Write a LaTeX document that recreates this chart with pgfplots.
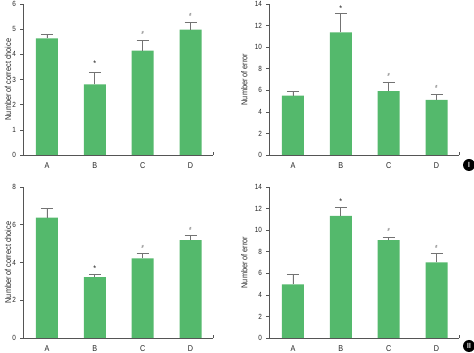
\documentclass[border=0pt]{standalone}
\usepackage{fontspec}
\setmainfont{Liberation Sans}[FakeStretch=0.85]
\usepackage{pgfplots}
\pgfplotsset{compat=1.18}
\definecolor{barg}{RGB}{84,185,108}
\definecolor{axg}{RGB}{85,85,85}
\definecolor{errg}{RGB}{115,115,115}
\pgfplotsset{
  panel/.style={
    scale only axis, width=190pt, height=151pt,
    xmin=-0.5, xmax=3.47, ymin=0,
    axis lines*=left,
    axis line style={axg, line width=0.6pt},
    xtick={0,1,2,3}, xticklabels={A,B,C,D},
    x tick style={draw=none},
    extra x ticks={3.47}, extra x tick labels={},
    extra x tick style={x tick style={draw=axg, line width=0.6pt}, tick align=inside, major tick length=3pt},
    tick align=outside, major tick length=3pt,
    y tick style={axg, line width=0.6pt},
    /pgf/number format/assume math mode=true,
    yticklabel style={font=\fontsize{7.5}{8}\selectfont, text=black!85, xshift=-0.5pt},
    xticklabel style={font=\fontsize{8.5}{9}\selectfont, text=black!85, yshift=-1pt},
    every axis y label/.style={at={(axis description cs:-0.079,0.5)}, rotate=90, anchor=center, font=\fontsize{8.6}{9}\selectfont, text=black!85},
    clip=false,
  },
  rightpanel/.style={every axis y label/.append style={at={(axis description cs:-0.13,0.5)}}},
  bars/.style={ybar, bar shift=0pt, bar width=22pt, fill=barg, draw=none,
    error bars/.cd, y dir=plus, y explicit,
    error bar style={errg, line width=0.7pt},
    error mark options={rotate=90, mark size=6pt, errg, line width=0.7pt}},
  star/.style={draw=none, mark=none, nodes near coords={*},
    every node near coord/.append style={anchor=center, inner sep=0pt, font=\fontsize{8.5}{9}\selectfont, text=black!85}},
  hash/.style={draw=none, mark=none, nodes near coords={\#},
    every node near coord/.append style={anchor=center, inner sep=0pt, font=\fontsize{4.5}{5}\selectfont, text=black!85}},
}
\begin{document}
\begin{tikzpicture}
\useasboundingbox (0pt,0pt) rectangle (474pt,353pt);
% Panel 1
\begin{axis}[panel, at={(23pt,198pt)}, anchor=south west, ymax=6, ytick={0,1,...,6},
  ylabel={Number of correct choice}]
\addplot[bars] table[x=x, y=y, y error=e] {
x y e
0 4.63 0.18
1 2.81 0.48
2 4.15 0.41
3 4.98 0.29
};
\addplot[star] coordinates {(1,3.62)};
\addplot[hash] coordinates {(2,4.83) (3,5.56)};
\end{axis}
% Panel 2
\begin{axis}[panel, rightpanel, at={(269pt,198pt)}, anchor=south west, ymax=14, ytick={0,2,...,14},
  ylabel={Number of error}]
\addplot[bars] table[x=x, y=y, y error=e] {
x y e
0 5.50 0.43
1 11.37 1.73
2 5.93 0.84
3 5.10 0.49
};
\addplot[star] coordinates {(1,13.6)};
\addplot[hash] coordinates {(2,7.42) (3,6.27)};
\end{axis}
% Panel 3
\begin{axis}[panel, at={(23pt,15pt)}, anchor=south west, ymax=8, ytick={0,2,...,8},
  ylabel={Number of correct choice}]
\addplot[bars] table[x=x, y=y, y error=e] {
x y e
0 6.38 0.48
1 3.22 0.14
2 4.22 0.25
3 5.19 0.26
};
\addplot[star] coordinates {(1,3.70)};
\addplot[hash] coordinates {(2,4.84) (3,5.80)};
\end{axis}
% Panel 4
\begin{axis}[panel, rightpanel, at={(269pt,15pt)}, anchor=south west, ymax=14, ytick={0,2,...,14},
  ylabel={Number of error}]
\addplot[bars] table[x=x, y=y, y error=e] {
x y e
0 4.98 0.96
1 11.32 0.80
2 9.08 0.27
3 7.02 0.80
};
\addplot[star] coordinates {(1,12.62)};
\addplot[hash] coordinates {(2,10.06) (3,8.46)};
\end{axis}
\node[circle, fill=black, inner sep=0pt, minimum size=12pt, text=white, font=\fontsize{7.5}{8}\selectfont\bfseries] at (469pt,188pt) {I};
\node[circle, fill=black, inner sep=0pt, minimum size=12pt, text=white, font=\fontsize{7.5}{8}\selectfont\bfseries] at (469pt,7pt) {II};
\end{tikzpicture}
\end{document}
